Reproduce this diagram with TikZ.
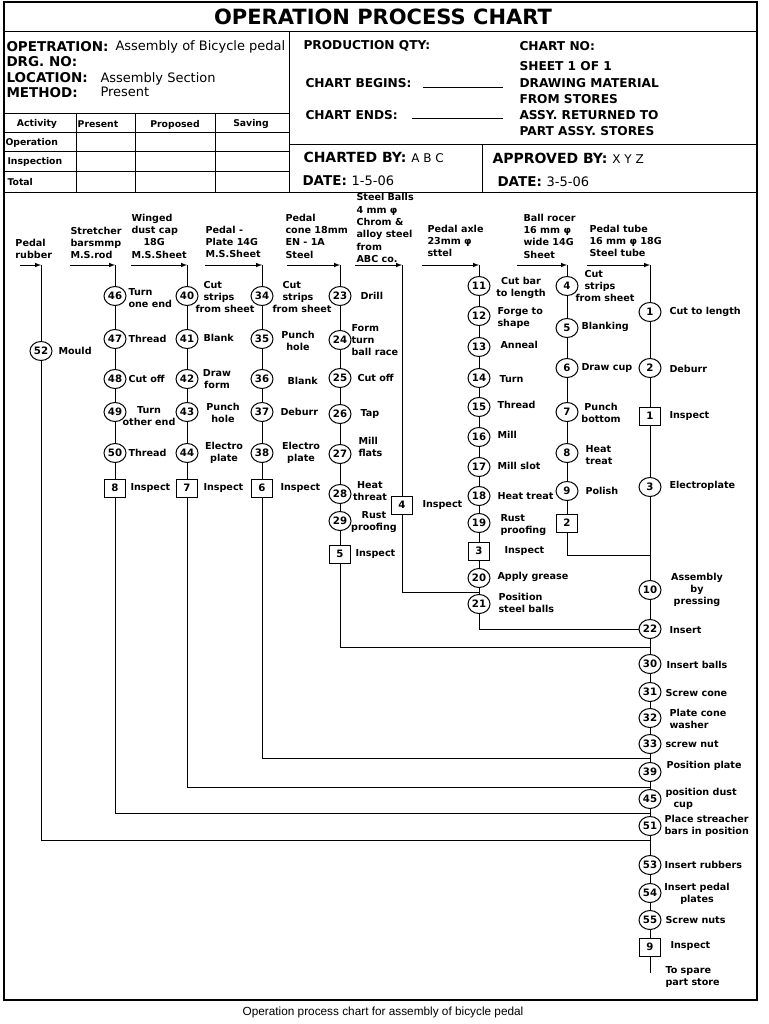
\documentclass[tikz,border=0pt]{standalone}
\usepackage{fontspec}
\setmainfont{DejaVu Sans}
\newfontfamily\capfont{Liberation Sans}
\usetikzlibrary{shapes.geometric}

\newcommand{\chartlbl}{\fontsize{9.6}{12.3}\selectfont\bfseries}
\newcommand{\chartnum}{\fontsize{10.2}{12}\selectfont\bfseries}
\newcommand{\hdrbold}{\fontsize{13.5}{16}\selectfont\bfseries}
\newcommand{\hdrsigned}{\fontsize{14}{16}\selectfont\bfseries}
\newcommand{\hdrval}{\fontsize{13}{16}\selectfont\mdseries}
\newcommand{\hdrcaps}{\fontsize{12.2}{16}\selectfont\bfseries}
\newcommand{\hdrsign}{\fontsize{12}{16}\selectfont\mdseries}
\newcommand{\tablbl}{\fontsize{9.3}{11}\selectfont\bfseries}
\newcommand{\titlefont}{\fontsize{21}{24}\selectfont\bfseries}
\newcommand{\captfont}{\capfont\fontsize{11.8}{13}\selectfont}

\begin{document}
\begin{tikzpicture}[x=1pt,y=-1pt,>=latex,line width=1pt,
  frame/.style={line width=1.3pt},
  op/.style={ellipse,draw,inner sep=0pt,minimum width=22pt,minimum height=19pt,font=\chartnum},
  insp/.style={rectangle,draw,inner sep=0pt,minimum width=21pt,minimum height=18pt,font=\chartnum},
  lbl/.style={inner sep=0pt,anchor=west,align=left,font=\chartlbl},
  lblc/.style={inner sep=0pt,align=center,font=\chartlbl},
  hdr/.style={inner sep=0pt,anchor=west,align=left,font=\hdrbold},
  hdrs/.style={inner sep=0pt,anchor=west,font=\hdrsigned},
  hdrv/.style={inner sep=0pt,anchor=west,font=\hdrval},
  hdrr/.style={inner sep=0pt,anchor=west,align=left,font=\hdrcaps},
  tcell/.style={inner sep=0pt,font=\tablbl},
  trow/.style={inner sep=0pt,anchor=west,font=\tablbl}]
\useasboundingbox (0,0) rectangle (768,1024);

% form frame
\draw[frame] (4,2) rectangle (757,1000);
\draw (4,32) -- (757,32);
\draw (4,193) -- (757,193);
\draw (289,32) -- (289,193);
\draw (4,114) -- (289,114);
\draw (4,133) -- (289,133);
\draw (4,152) -- (289,152);
\draw (4,172) -- (289,172);
\draw (76,114) -- (76,193);
\draw (135,114) -- (135,193);
\draw (215,114) -- (215,193);
\draw (289,145) -- (757,145);
\draw (482,145) -- (482,193);
\draw (423,88) -- (503,88);
\draw (412,119) -- (503,119);

% header texts
\node[font=\titlefont] (title) at (383,17) {OPERATION PROCESS CHART};
\node[hdr] (opk) at (6,47) {OPETRATION:};
\node[hdrv] (opv) at (115,47) {Assembly of Bicycle pedal};
\node[hdr] (drg) at (6,62) {DRG. NO:};
\node[hdr] (lock) at (6,78) {LOCATION:};
\node[hdrv] (locv) at (100,79) {Assembly Section};
\node[hdr] (metk) at (6,93) {METHOD:};
\node[hdrv] (metv) at (100,92) {Present};

\node[tcell] (actH) at (37,124) {Activity};
\node[tcell] (preH) at (98,124) {Present};
\node[tcell] (proH) at (175,125) {Proposed};
\node[tcell] (savH) at (251,124) {Saving};
\node[trow] (opR) at (5,143) {Operation};
\node[trow] (inR) at (7,162) {Inspection};
\node[trow] (totR) at (7,182) {Total};

\node[hdrr] (qty) at (303,46) {PRODUCTION QTY:};
\node[hdrr] (chno) at (519,46) {CHART NO:};
\node[hdrr] (sheet) at (519,66) {SHEET 1 OF 1};
\node[hdrr] (beg) at (305,83) {CHART BEGINS:};
\node[hdrr] (begv) at (519,91) {DRAWING MATERIAL\\FROM STORES};
\node[hdrr] (ends) at (305,115) {CHART ENDS:};
\node[hdrr] (endv) at (519,123) {ASSY. RETURNED TO\\PART ASSY. STORES};
\node[hdrs] (chby) at (303,157) {CHARTED BY: {\hdrsign A B C}};
\node[hdr] (dt1) at (302,181) {DATE: {\hdrval 1-5-06}};
\node[hdrs] (apby) at (492,158) {APPROVED BY: {\hdrsign X Y Z}};
\node[hdr] (dt2) at (497,182) {DATE: {\hdrval 3-5-06}};

% pedal rubber
\node[lbl] (inA) at (15,249) {Pedal\\rubber};
\coordinate (sA) at (20,265);
\coordinate (tA) at (41,265);
\node[op] (o52) at (41,351) {52};
\node[lbl] (t52) at (58,351) {Mould};

% stretcher bars
\node[lbl] (inB) at (70,243) {Stretcher\\barsmmp\\M.S.rod};
\coordinate (sB) at (70,265);
\coordinate (tB) at (115,265);
\node[op] (o46) at (115,296) {46};
\node[lbl] (t46) at (128,298) {Turn\\one end};
\node[op] (o47) at (115,339) {47};
\node[lbl] (t47) at (128,339) {Thread};
\node[op] (o48) at (115,379) {48};
\node[lbl] (t48) at (128,379) {Cut off};
\node[op] (o49) at (115,412) {49};
\node[lblc] (t49) at (149,416) {Turn\\other end};
\node[op] (o50) at (115,453) {50};
\node[lbl] (t50) at (128,453) {Thread};
\node[insp] (i8) at (115,488) {8};
\node[lbl] (ti8) at (130,488) {Inspect};

% dust cap
\node[lbl] (inC) at (131,236) {Winged\\dust cap\\\hspace*{12pt}18G\\M.S.Sheet};
\coordinate (sC) at (131,265);
\coordinate (tC) at (187,265);
\node[op] (o40) at (187,296) {40};
\node[lbl] (t40) at (203,297) {Cut\\strips\\\hspace*{-8pt}from sheet};
\node[op] (o41) at (187,339) {41};
\node[lbl] (t41) at (203,338) {Blank};
\node[op] (o42) at (187,379) {42};
\node[lblc] (t42) at (217,379) {Draw\\form};
\node[op] (o43) at (187,412) {43};
\node[lblc] (t43) at (223,413) {Punch\\hole};
\node[op] (o44) at (187,453) {44};
\node[lblc] (t44) at (224,453) {Electro\\plate};
\node[insp] (i7) at (187,488) {7};
\node[lbl] (ti7) at (203,488) {Inspect};

% pedal plate
\node[lbl] (inD) at (205,242) {Pedal -\\Plate 14G\\M.S.Sheet};
\coordinate (sD) at (205,265);
\coordinate (tD) at (262,265);
\node[op] (o34) at (262,296) {34};
\node[lbl] (t34) at (282,297) {Cut\\strips\\\hspace*{-10pt}from sheet};
\node[op] (o35) at (262,339) {35};
\node[lblc] (t35) at (298,341) {Punch\\hole};
\node[op] (o36) at (262,379) {36};
\node[lbl] (t36) at (287,381) {Blank};
\node[op] (o37) at (262,412) {37};
\node[lbl] (t37) at (280,412) {Deburr};
\node[op] (o38) at (262,453) {38};
\node[lblc] (t38) at (301,453) {Electro\\plate};
\node[insp] (i6) at (262,488) {6};
\node[lbl] (ti6) at (280,488) {Inspect};

% pedal cone
\node[lbl] (inE) at (285,236) {Pedal\\cone 18mm\\EN - 1A\\Steel};
\coordinate (sE) at (287,265);
\coordinate (tE) at (340,265);
\node[op] (o23) at (340,296) {23};
\node[lbl] (t23) at (360,296) {Drill};
\node[op] (o24) at (340,340) {24};
\node[lbl] (t24) at (351,340) {Form\\turn\\ball race};
\node[op] (o25) at (340,378) {25};
\node[lbl] (t25) at (357,378) {Cut off};
\node[op] (o26) at (340,414) {26};
\node[lbl] (t26) at (360,414) {Tap};
\node[op] (o27) at (340,454) {27};
\node[lbl] (t27) at (358,447) {Mill\\flats};
\node[op] (o28) at (340,494) {28};
\node[lblc] (t28) at (370,491) {Heat\\threat};
\node[op] (o29) at (340,521) {29};
\node[lblc] (t29) at (374,522) {Rust\\proofing};
\node[insp] (i5) at (340,554) {5};
\node[lbl] (ti5) at (355,554) {Inspect};

% steel balls
\node[lbl] (inF) at (356,228) {Steel Balls\\4 mm φ\\Chrom \&\\alloy steel\\from\\ABC co.};
\coordinate (sF) at (355,265);
\coordinate (tF) at (402,265);
\node[insp] (i4) at (402,505) {4};
\node[lbl] (ti4) at (422,505) {Inspect};

% pedal axle
\node[lbl] (inG) at (427,241) {Pedal axle\\23mm φ\\sttel};
\coordinate (sG) at (422,265);
\coordinate (tG) at (479,265);
\node[op] (o11) at (479,286) {11};
\node[lblc] (t11) at (521,288) {Cut bar\\to length};
\node[op] (o12) at (479,316) {12};
\node[lbl] (t12) at (497,318) {Forge to\\shape};
\node[op] (o13) at (479,347) {13};
\node[lbl] (t13) at (500,345) {Anneal};
\node[op] (o14) at (479,378) {14};
\node[lbl] (t14) at (499,379) {Turn};
\node[op] (o15) at (479,407) {15};
\node[lbl] (t15) at (497,405) {Thread};
\node[op] (o16) at (479,437) {16};
\node[lbl] (t16) at (497,435) {Mill};
\node[op] (o17) at (479,467) {17};
\node[lbl] (t17) at (497,466) {Mill slot};
\node[op] (o18) at (479,496) {18};
\node[lbl] (t18) at (497,496) {Heat treat};
\node[op] (o19) at (479,523) {19};
\node[lbl] (t19) at (500,525) {Rust\\proofing};
\node[insp] (i3) at (479,551) {3};
\node[lbl] (ti3) at (504,551) {Inspect};
\node[op] (o20) at (479,578) {20};
\node[lbl] (t20) at (497,577) {Apply grease};
\node[op] (o21) at (479,604) {21};
\node[lbl] (t21) at (498,603) {Position\\steel balls};
\coordinate (j21) at (479,592);

% ball racer
\node[lbl] (inH) at (523,236) {Ball rocer\\16 mm φ\\wide 14G\\Sheet};
\coordinate (sH) at (517,265);
\coordinate (tH) at (567,265);
\node[op] (o4) at (567,286) {4};
\node[lbl] (t4) at (584,286) {Cut\\strips\\\hspace*{-9pt}from sheet};
\node[op] (o5) at (567,328) {5};
\node[lbl] (t5) at (581,327) {Blanking};
\node[op] (o6) at (567,368) {6};
\node[lbl] (t6) at (581,368) {Draw cup};
\node[op] (o7) at (567,412) {7};
\node[lblc] (t7) at (601,413) {Punch\\bottom};
\node[op] (o8) at (567,453) {8};
\node[lbl] (t8) at (585,455) {Heat\\treat};
\node[op] (o9) at (567,491) {9};
\node[lbl] (t9) at (585,491) {Polish};
\node[insp] (i2) at (567,523) {2};

% pedal tube and main line
\node[lbl] (inI) at (589,241) {Pedal tube\\16 mm φ 18G\\Steel tube};
\coordinate (sI) at (587,265);
\coordinate (tI) at (650,265);
\node[op] (o1) at (650,312) {1};
\node[lbl] (t1) at (669,312) {Cut to length};
\node[op] (o2) at (650,368) {2};
\node[lbl] (t2) at (669,369) {Deburr};
\node[insp] (i1) at (650,416) {1};
\node[lbl] (ti1) at (669,416) {Inspect};
\node[op] (o3) at (650,487) {3};
\node[lbl] (t3) at (669,486) {Electroplate};
\coordinate (j10) at (650,555);
\node[op] (o10) at (650,590) {10};
\node[lblc] (t10) at (697,590) {Assembly\\by\\pressing};
\node[op] (o22) at (650,629) {22};
\node[lbl] (t22) at (669,630) {Insert};
\coordinate (j30) at (650,647);
\node[op] (o30) at (650,664) {30};
\node[lbl] (t30) at (666,665) {Insert balls};
\node[op] (o31) at (650,692) {31};
\node[lbl] (t31) at (665,693) {Screw cone};
\node[op] (o32) at (650,718) {32};
\node[lbl] (t32) at (669,719) {Plate cone\\washer};
\node[op] (o33) at (650,744) {33};
\node[lbl] (t33) at (665,744) {screw nut};
\coordinate (j39) at (650,758);
\node[op] (o39) at (650,772) {39};
\node[lbl] (t39) at (666,766) {Position plate};
\coordinate (j45) at (650,787);
\node[op] (o45) at (650,799) {45};
\node[lbl] (t45) at (665,799) {position dust\\\hspace*{8pt}cup};
\coordinate (j51) at (650,813);
\node[op] (o51) at (650,826) {51};
\node[lbl] (t51) at (664,826) {Place streacher\\bars in position};
\coordinate (j53) at (650,840);
\node[op] (o53) at (650,865) {53};
\node[lbl] (t53) at (664,865) {Insert rubbers};
\node[op] (o54) at (650,893) {54};
\node[lblc] (t54) at (697,894) {Insert pedal\\plates};
\node[op] (o55) at (650,920) {55};
\node[lbl] (t55) at (665,920) {Screw nuts};
\node[insp] (i9) at (650,947) {9};
\node[lbl] (ti9) at (670,946) {Inspect};
\coordinate (eI) at (650,973);
\node[lbl] (tEnd) at (665,977) {To spare\\part store};

% material inputs
\draw[->] (sA) -- (tA);
\draw[->] (sB) -- (tB);
\draw[->] (sC) -- (tC);
\draw[->] (sD) -- (tD);
\draw[->] (sE) -- (tE);
\draw[->] (sF) -- (tF);
\draw[->] (sG) -- (tG);
\draw[->] (sH) -- (tH);
\draw[->] (sI) -- (tI);

% flow lines
\draw (tA) -- (o52) |- (j53);
\draw (tB) -- (o46) -- (o47) -- (o48) -- (o49) -- (o50) -- (i8) |- (j51);
\draw (tC) -- (o40) -- (o41) -- (o42) -- (o43) -- (o44) -- (i7) |- (j45);
\draw (tD) -- (o34) -- (o35) -- (o36) -- (o37) -- (o38) -- (i6) |- (j39);
\draw (tE) -- (o23) -- (o24) -- (o25) -- (o26) -- (o27) -- (o28) -- (o29) -- (i5) |- (j30);
\draw (tF) -- (i4) |- (j21);
\draw (tG) -- (o11) -- (o12) -- (o13) -- (o14) -- (o15) -- (o16) -- (o17) -- (o18) -- (o19) -- (i3) -- (o20) -- (o21) |- (o22);
\draw (tH) -- (o4) -- (o5) -- (o6) -- (o7) -- (o8) -- (o9) -- (i2) |- (j10);
\draw (tI) -- (o1) -- (o2) -- (i1) -- (o3) -- (o10) -- (o22) -- (o30) -- (o31) -- (o32) -- (o33) -- (o39) -- (o45) -- (o51) -- (o53) -- (o54) -- (o55) -- (i9) -- (eI);

\node[font=\captfont] (capt) at (383,1012) {Operation process chart for assembly of bicycle pedal};
\end{tikzpicture}
\end{document}
